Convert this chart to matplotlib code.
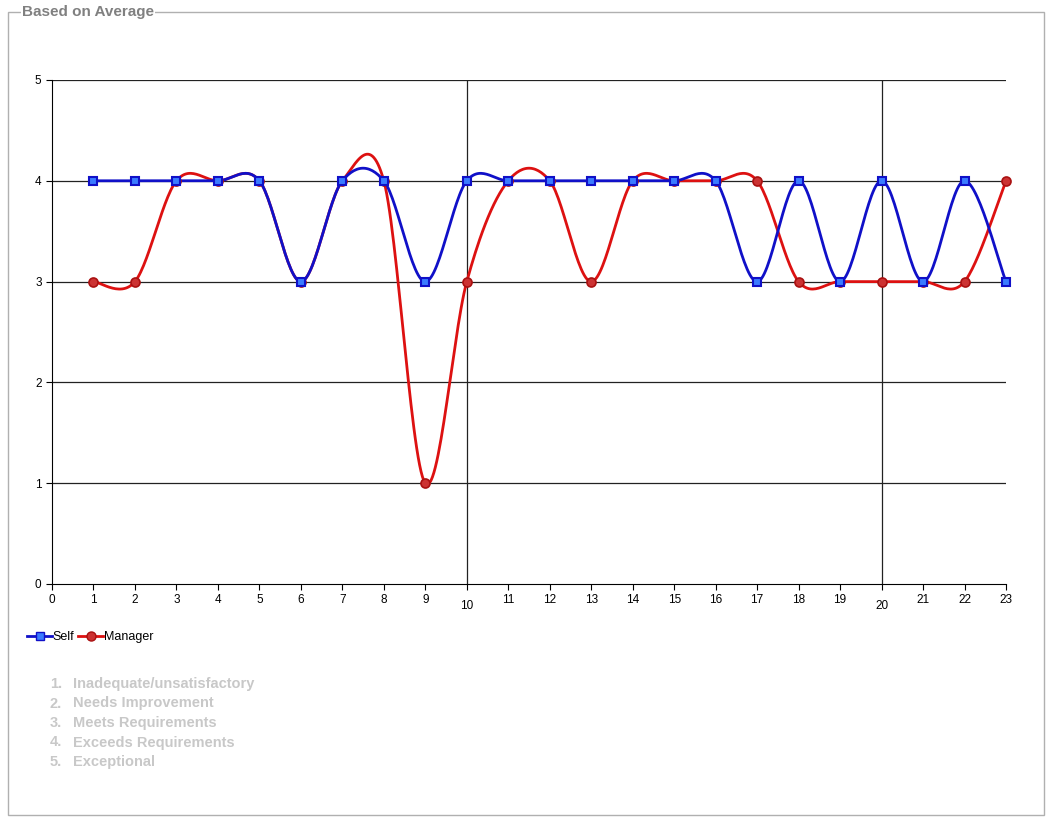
import numpy as np
import matplotlib.pyplot as plt
from matplotlib.patches import Rectangle
from matplotlib.lines import Line2D

plt.rcParams['font.family'] = ['Liberation Sans', 'DejaVu Sans']

x = np.arange(1, 24)
self_vals = [4, 4, 4, 4, 4, 3, 4, 4, 3, 4, 4, 4, 4, 4, 4, 4, 3, 4, 3, 4, 3, 4, 3]
mgr_vals = [3, 3, 4, 4, 4, 3, 4, 4, 1, 3, 4, 4, 3, 4, 4, 4, 4, 3, 3, 3, 3, 3, 4]
scale_items = ["Inadequate/unsatisfactory", "Needs Improvement", "Meets Requirements",
               "Exceeds Requirements", "Exceptional"]


def smooth(xs, ys, n=30, t=0.5):
    xs = np.asarray(xs, float)
    ys = np.asarray(ys, float)
    px = np.concatenate([[xs[0]], xs, [xs[-1]]])
    py = np.concatenate([[ys[0]], ys, [ys[-1]]])
    ox, oy = [], []
    for i in range(1, len(px) - 2):
        m0x, m0y = t * (px[i + 1] - px[i - 1]), t * (py[i + 1] - py[i - 1])
        m1x, m1y = t * (px[i + 2] - px[i]), t * (py[i + 2] - py[i])
        s = np.linspace(0, 1, n)
        h00 = 2 * s**3 - 3 * s**2 + 1
        h10 = s**3 - 2 * s**2 + s
        h01 = -2 * s**3 + 3 * s**2
        h11 = s**3 - s**2
        ox.extend(h00 * px[i] + h10 * m0x + h01 * px[i + 1] + h11 * m1x)
        oy.extend(h00 * py[i] + h10 * m0y + h01 * py[i + 1] + h11 * m1y)
    return ox, oy


fig = plt.figure(figsize=(10.52, 8.23), dpi=100)
fig.patches.append(Rectangle((8 / 1052, 8 / 823), 1036 / 1052, 803 / 823, transform=fig.transFigure,
                             fill=False, edgecolor="#b0b0b0", lw=1))
fig.text(22 / 1052, 1 - 12 / 823, "Based on Average", fontsize=11, fontweight="bold", color="#808080",
         va="center", ha="left", bbox=dict(facecolor="white", edgecolor="none", pad=1))

ax = fig.add_axes([52 / 1052, 1 - 584 / 823, 954 / 1052, 504 / 823])
ax.set_xlim(0, 23)
ax.set_ylim(0, 5)
for y in range(1, 6):
    ax.axhline(y, color="#222222", lw=0.9, zorder=1)
for v in (10, 20):
    ax.axvline(v, color="#222222", lw=0.9, zorder=1)
for s in ("top", "right"):
    ax.spines[s].set_visible(False)

sx, sy = smooth(x, self_vals)
mx, my = smooth(x, mgr_vals)
ax.plot(sx, sy, color="#1010c8", lw=2, zorder=3)
ax.plot(mx, my, color="#dd1111", lw=2, zorder=2)
ax.plot(x, self_vals, ls="none", marker="s", ms=6, mfc="#3a7bff", mec="#1010c8", mew=1.5, zorder=4,
        clip_on=False)
ax.plot(x, mgr_vals, ls="none", marker="o", ms=6.5, mfc="#cc3333", mec="#aa1111", mew=1.2, zorder=3,
        clip_on=False)

ax.set_xticks(range(0, 24))
ax.set_yticks(range(0, 6))
ax.tick_params(labelsize=8.5, length=4)
for lbl in ax.get_xticklabels():
    if lbl.get_text() in ("10", "20"):
        lbl.set_y(-0.012)

handles = [Line2D([], [], color="#1010c8", lw=2, marker="s", mfc="#3a7bff", mec="#1010c8", ms=6),
           Line2D([], [], color="#dd1111", lw=2, marker="o", mfc="#cc3333", mec="#aa1111", ms=6.5)]
fig.legend(handles, ["Self", "Manager"], loc="center left", bbox_to_anchor=(16 / 1052, 1 - 637 / 823),
           frameon=False, fontsize=9, handlelength=2, handletextpad=0.05, columnspacing=0.3, ncol=2)

for i, item in enumerate(scale_items):
    yy = 1 - (684 + i * 19.5) / 823
    fig.text(50 / 1052, yy, f"{i + 1}.", fontsize=10.5, fontweight="bold", color="#c8c8c8", va="center")
    fig.text(73 / 1052, yy, item, fontsize=10.5, fontweight="bold", color="#c8c8c8", va="center")

fig.savefig("out.png", dpi=100)
